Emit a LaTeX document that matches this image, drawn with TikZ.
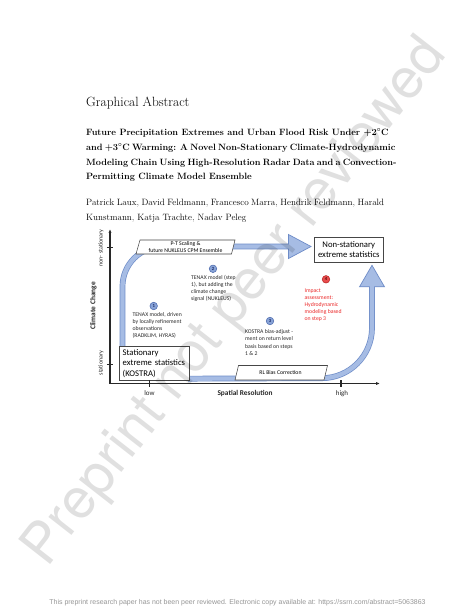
\documentclass[tikz,border=0pt]{standalone}
\usepackage{fontspec}
\newfontfamily\figfont{Carlito}
\newfontfamily\wmfont{TeX Gyre Heros}
\newfontfamily\footfont{Liberation Sans}
\usetikzlibrary{calc,arrows.meta}
\pgfdeclarelayer{bg}
\pgfsetlayers{bg,main}
\definecolor{bandfill}{RGB}{166,188,228}
\definecolor{bandline}{RGB}{110,140,200}
\definecolor{stepblue}{RGB}{135,162,214}
\definecolor{stepblueline}{RGB}{70,100,170}
\definecolor{stepbluetext}{RGB}{25,40,100}
\definecolor{stepred}{RGB}{232,76,76}
\definecolor{stepredline}{RGB}{180,30,30}
\definecolor{stepredtext}{RGB}{90,10,10}
\definecolor{redtext}{RGB}{235,40,40}
\definecolor{boxline}{RGB}{70,70,70}
\definecolor{axiscol}{RGB}{40,40,40}
\definecolor{footgray}{RGB}{150,150,150}
\newcommand{\firstrule}{\rule{0pt}{6pt}}
\begin{document}
\begin{tikzpicture}[x=1.29114pt,y=-1.29114pt,
  titleline/.style={anchor=base west, inner sep=0pt, font=\fontsize{11.8}{14}\selectfont\bfseries\boldmath},
  authorline/.style={anchor=base west, inner sep=0pt, font=\fontsize{11.8}{14}\selectfont},
  axisline/.style={line width=1.4pt, draw=axiscol},
  tickmark/.style={line width=1.8pt, draw=axiscol},
  axlabel/.style={font=\figfont\fontsize{9}{10}\selectfont, inner sep=0pt, text=axiscol},
  axtitle/.style={font=\figfont\bfseries\fontsize{9.5}{11}\selectfont, inner sep=0pt, text=axiscol},
  sidelabel/.style={font=\figfont\fontsize{7.8}{9}\selectfont, rotate=90, inner sep=0pt, text=axiscol},
  statbox/.style={draw=boxline, line width=0.9pt, fill=white},
  slantbox/.style={draw=boxline, line width=0.7pt, fill=white},
  slanttext/.style={font=\figfont\fontsize{7.4}{9}\selectfont, align=center, inner sep=0pt},
  smalltext/.style={font=\figfont\fontsize{7.4}{9.2}\selectfont, align=left, inner sep=0pt, anchor=north west, text=axiscol},
  stepcirc/.style={circle, minimum size=9.8pt, inner sep=0pt, line width=0.6pt, font=\figfont\bfseries\fontsize{6}{6}\selectfont},
  bluestep/.style={stepcirc, fill=stepblue, draw=stepblueline, text=stepbluetext},
  redstep/.style={stepcirc, fill=stepred, draw=stepredline, text=stepredtext},
  bandouter/.style={line width=7.4pt, draw=bandline},
  bandinner/.style={line width=5.6pt, draw=bandfill},
  bandhead/.style={fill=bandfill, draw=bandline, line width=0.9pt, line join=miter}
]
\useasboundingbox (0,0) rectangle (474,613);

% header text
\node[anchor=base west, inner sep=0pt, font=\fontsize{17.28}{20}\selectfont] (ga) at (86,106.5) {Graphical Abstract};
\node[titleline] (t1) at (86,135) {Future Precipitation Extremes and Urban Flood Risk Under $+2^{\circ}$C};
\node[titleline] (t2) at (86,150) {\makebox[397pt][s]{and $+3^{\circ}$C Warming: A Novel Non-Stationary Climate-Hydrodynamic}};
\node[titleline] (t3) at (86,165) {\makebox[399.6pt][s]{Modeling Chain Using High-Resolution Radar Data and a Convection-}};
\node[titleline] (t4) at (86,179.3) {Permitting Climate Model Ensemble};
\node[authorline] (au1) at (86,205.5) {\makebox[384.8pt][s]{Patrick Laux, David Feldmann, Francesco Marra, Hendrik Feldmann, Harald}};
\node[authorline] (au2) at (86,220.3) {Kunstmann, Katja Trachte, Nadav Peleg};

% figure boxes
\node[statbox, anchor=north west, minimum width=90.6pt, minimum height=44.5pt, text width=82.8pt,
  align=left, inner xsep=3.9pt, inner ysep=0pt, font=\figfont\fontsize{11.2}{13.6}\selectfont] (kostra)
  at (119.3,346) {Stationary\\extreme statistics\\(KOSTRA)};
\node[statbox, align=center, minimum width=89pt, minimum height=33.2pt, inner sep=0pt,
  font=\figfont\fontsize{11.2}{12.9}\selectfont] (nonstat)
  at (348.8,249.85) {Non-stationary\\extreme statistics};

% bands
\begin{pgfonlayer}{bg}
\fill[white] (0,0) rectangle (474,613);
\coordinate (a0) at ($(kostra.north west)+(3.2,1)$);
\coordinate (a1) at (122.5,246.5);
\coordinate (a2) at (290,246.5);
\coordinate (atip) at (311,246.5);
\draw[bandouter, rounded corners=51.6pt] (a0) -- (a1) -- (a2);
\draw[bandhead] ($(atip)+(-22.5,-12)$) -- (atip) -- ($(atip)+(-22.5,12)$) -- cycle;
\draw[bandinner, rounded corners=51.6pt] (a0) -- (a1) -- (a2);
\coordinate (b0) at ($(kostra.south east)+(-2,-2.5)$);
\coordinate (b1) at (372,378);
\coordinate (b2) at (372,285.5);
\coordinate (btip) at (372,265.3);
\draw[bandouter, rounded corners=64.6pt] (b0) -- (b1) -- (b2);
\draw[bandhead] ($(btip)+(-12.5,21.5)$) -- (btip) -- ($(btip)+(12.5,21.5)$) -- cycle;
\draw[bandinner, rounded corners=64.6pt] (b0) -- (b1) -- (b2);
\end{pgfonlayer}

% slanted label boxes
\draw[slantbox] (140,240) -- (235,240) -- (231.5,254) -- (136,254) -- cycle;
\node[slanttext] (pt) at (185.5,247.2) {P-T Scaling \&\\future NUKLEUS CPM Ensemble};
\draw[slantbox] (238.5,365.5) -- (327.5,365.5) -- (324,380) -- (235,380) -- cycle;
\node[slanttext] (rl) at (280.5,372.7) {RL Bias Correction};

% axes
\coordinate (yend) at (110,229);
\coordinate (orig) at (110,383.5);
\coordinate (xend) at (380,383.5);
\draw[axisline, {Latex[length=5pt,width=4pt]}-{Latex[length=5pt,width=4pt]}] (yend) -- (orig) -- (xend);
\draw[tickmark] (106.8,247.5) -- (113.2,247.5);
\draw[tickmark] (106.8,364.5) -- (113.2,364.5);
\draw[tickmark] (149.3,380.3) -- (149.3,386.7);
\draw[tickmark] (341,380.3) -- (341,386.7);
\node[sidelabel] (lns) at (101,248) {non- stationary};
\node[sidelabel] (lst) at (101,363) {stationary};
\node[axtitle, rotate=90] (lcc) at (93.5,306) {Climate Change};
\node[axlabel] (llow) at (149.5,393.5) {low};
\node[axlabel] (lhigh) at (342,393.8) {high};
\node[axtitle] (lsr) at (245,393.5) {Spatial Resolution};

% steps
\node[bluestep] (s1) at (153.7,306) {1};
\node[smalltext] (s1t) at (132.5,311.75) {\firstrule TENAX model, driven\\by locally refinement\\observations\\(RADKLIM, HYRAS)};
\node[bluestep] (s2) at (213,268.8) {2};
\node[smalltext] (s2t) at (191,274.55) {\firstrule TENAX model (step\\1), but adding the\\climate change\\signal (NUKLEUS)};
\node[bluestep] (s3) at (270,321) {3};
\node[smalltext] (s3t) at (245,329.05) {\firstrule KOSTRA bias-adjust -\\ment on return level\\basis based on steps\\1 \& 2};
\node[redstep] (s4) at (326,279.3) {4};
\node[smalltext, text=redtext] (s4t) at (304.5,287.45) {\firstrule Impact\\assessment:\\Hydrodynamic\\modeling based\\on step 3};

% footer
\node[anchor=base, inner sep=0pt, font=\footfont\fontsize{9}{10}\selectfont, text=footgray] (foot) at (237.5,604)
  {This preprint research paper has not been peer reviewed. Electronic copy available at: https://ssrn.com/abstract=5063863};

% watermark
\node[font=\wmfont\fontsize{72}{72}\selectfont, rotate=52, text=black, text opacity=0.12, inner sep=0pt] (wm) at (236,303)
  {Preprint not peer reviewed};
\end{tikzpicture}
\end{document}
